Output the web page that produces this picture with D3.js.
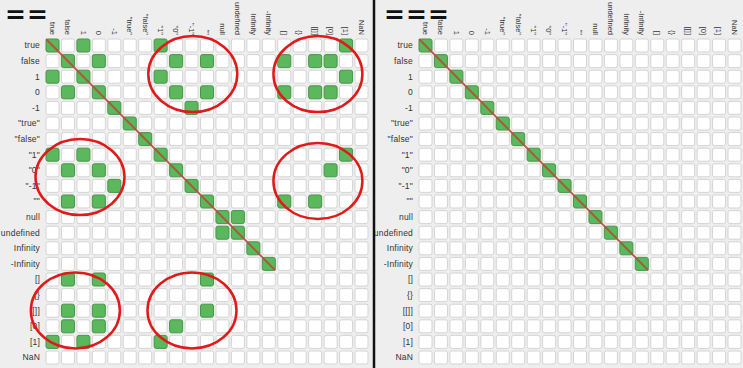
<!DOCTYPE html>
<html>
<head>
<meta charset="utf-8">
<script src="https://cdn.jsdelivr.net/npm/d3@7"></script>
<style>
  body { margin: 0; background: #eeeeee; }
  svg { display: block; }
</style>
</head>
<body>
<div id="chart"></div>
<script>
const labels = ["true", "false", "1", "0", "-1", "\"true\"", "\"false\"", "\"1\"", "\"0\"", "\"-1\"",
  "\"\"", "null", "undefined", "Infinity", "-Infinity", "[]", "{}", "[[]]", "[0]", "[1]", "NaN"];

// column indices that compare equal, one list per row
const looseMatches = [
  [0, 2, 7, 19],
  [1, 3, 8, 10, 15, 17, 18],
  [0, 2, 7, 19],
  [1, 3, 8, 10, 15, 17, 18],
  [4, 9],
  [5],
  [6],
  [0, 2, 7, 19],
  [1, 3, 8, 18],
  [4, 9],
  [1, 3, 10, 15, 17],
  [11, 12],
  [11, 12],
  [13],
  [14],
  [1, 3, 10],
  [],
  [1, 3, 10],
  [1, 3, 8],
  [0, 2, 7],
  []
];
const strictMatches = [
  [0], [1], [2], [3], [4], [5], [6], [7], [8], [9], [10], [11], [12], [13], [14],
  [], [], [], [], [], []
];
// hand drawn circles on the == table, in cell units
const circleCols = [9.5, 17.6, 2.2, 17.6, 1.9, 9.45];
const circleRows = [2.25, 2.25, 8.85, 9.1, 17.4, 17.4];

const W = 743, H = 368;
const STEPX = 15.45, STEPY = 15.6, CELL = 13;
const TOP = 39;

const svg = d3.select("#chart").append("svg").attr("width", W).attr("height", H);
svg.append("rect").attr("width", W).attr("height", H).attr("fill", "#eeeeee");

const y = d3.scaleLinear().domain([0, labels.length]).range([TOP, TOP + labels.length * STEPY]);

const panels = [
  { title: "==", matches: looseMatches, left: 46, titleX: 5, circles: true },
  { title: "===", matches: strictMatches, left: 419, titleX: 384, circles: false }
];

panels.forEach((p) => {
  const x = d3.scaleLinear().domain([0, labels.length]).range([p.left, p.left + labels.length * STEPX]);
  const g = svg.append("g");

  g.append("text")
    .attr("x", p.titleX)
    .attr("y", 23)
    .style("font-family", "DejaVu Sans")
    .style("font-weight", "bold")
    .style("font-size", "25px")
    .style("letter-spacing", "1px")
    .style("fill", "#111")
    .text(p.title);

  // row labels
  g.selectAll(".rowlab")
    .data(labels)
    .enter()
    .append("text")
    .attr("x", p.left - 6)
    .attr("y", (d, i) => y(i) + CELL / 2)
    .attr("dy", "0.35em")
    .style("text-anchor", "end")
    .style("font-family", "Liberation Sans")
    .style("font-size", "8.5px")
    .style("letter-spacing", "0.2px")
    .style("fill", "#333")
    .text((d) => d);

  // column labels
  g.selectAll(".collab")
    .data(labels)
    .enter()
    .append("text")
    .attr("transform", (d, i) => `translate(${x(i) + CELL / 2}, 35) rotate(90)`)
    .attr("dy", "0.35em")
    .style("text-anchor", "end")
    .style("font-family", "Liberation Sans")
    .style("font-size", "7.5px")
    .style("fill", "#333")
    .text((d) => d);

  const cells = [];
  labels.forEach((r, i) => {
    labels.forEach((c, j) => {
      cells.push({ row: i, col: j, eq: p.matches[i].includes(j) });
    });
  });

  g.selectAll(".cell")
    .data(cells)
    .enter()
    .append("rect")
    .attr("x", (d) => x(d.col))
    .attr("y", (d) => y(d.row))
    .attr("width", CELL)
    .attr("height", CELL)
    .attr("rx", 2)
    .style("fill", (d) => (d.eq ? "#5cb85c" : "#ffffff"))
    .style("stroke", (d) => (d.eq ? "#469646" : "#d4d4d4"))
    .style("stroke-width", 1);

  // diagonal through the self-equal cells
  const last = d3.max(p.matches, (m, i) => (m.includes(i) ? i : -1));
  g.append("line")
    .attr("x1", x(0))
    .attr("y1", y(0))
    .attr("x2", x(last) + CELL)
    .attr("y2", y(last) + CELL)
    .style("stroke", "#b0503a")
    .style("stroke-width", 2)
    .style("opacity", 0.9);

  if (p.circles) {
    g.selectAll(".ring")
      .data(circleCols)
      .enter()
      .append("ellipse")
      .attr("cx", (d) => x(d))
      .attr("cy", (d, i) => y(circleRows[i]))
      .attr("rx", 44.5)
      .attr("ry", 38)
      .style("fill", "none")
      .style("stroke", "#e01a1a")
      .style("stroke-width", 2.5);
  }
});

// divider
svg.append("line")
  .attr("x1", 374).attr("x2", 374)
  .attr("y1", 0).attr("y2", H)
  .style("stroke", "#111")
  .style("stroke-width", 2.5);
</script>
</body>
</html>
